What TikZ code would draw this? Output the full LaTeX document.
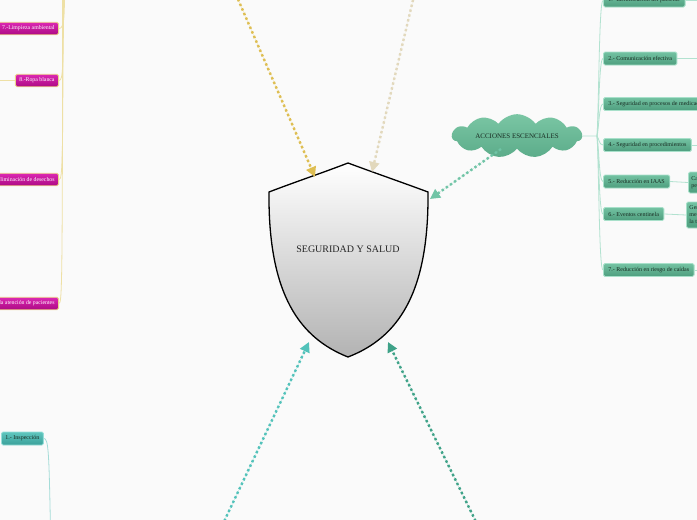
\documentclass[tikz,border=0pt]{standalone}
\usepackage{fontspec}
\setmainfont{Liberation Serif}
\usetikzlibrary{shapes.symbols,arrows.meta,calc}
\definecolor{bgc}{RGB}{250,250,250}
\definecolor{gtop}{RGB}{115,194,162}
\definecolor{gbot}{RGB}{78,158,126}
\definecolor{gbord}{RGB}{168,224,202}
\definecolor{gtext}{RGB}{25,45,35}
\definecolor{ptop}{RGB}{220,40,178}
\definecolor{pbot}{RGB}{172,10,132}
\definecolor{pbord}{RGB}{236,214,140}
\definecolor{ttop}{RGB}{95,198,190}
\definecolor{tbot}{RGB}{58,160,154}
\definecolor{tbord}{RGB}{150,222,216}
\definecolor{yline}{RGB}{238,224,165}
\definecolor{gline}{RGB}{178,226,208}
\definecolor{tline}{RGB}{165,220,216}
\definecolor{ayel}{RGB}{222,190,82}
\definecolor{abei}{RGB}{226,216,188}
\definecolor{acld}{RGB}{112,196,166}
\definecolor{atea}{RGB}{82,194,186}
\definecolor{adrk}{RGB}{62,162,136}
\definecolor{ctop}{RGB}{122,198,164}
\definecolor{cbot}{RGB}{92,172,138}
\begin{document}
\begin{tikzpicture}[x=1pt,y=-1pt,
  gbox/.style={rounded corners=1.5pt, draw=gbord, line width=0.9pt, top color=gtop, bottom color=gbot,
    text=gtext, font=\fontsize{6}{7}\selectfont, inner xsep=5pt, inner ysep=0pt, minimum height=13pt},
  pbox/.style={rounded corners=1.5pt, draw=pbord, line width=0.9pt, top color=ptop, bottom color=pbot,
    text=white, font=\fontsize{5.8}{7}\selectfont, inner xsep=4pt, inner ysep=0pt, minimum height=12.5pt},
  tbox/.style={rounded corners=1.5pt, draw=tbord, line width=0.9pt, top color=ttop, bottom color=tbot,
    text=gtext, font=\fontsize{6}{7}\selectfont, inner xsep=4pt, inner ysep=0pt, minimum height=13pt},
  ylin/.style={draw=yline, line width=0.8pt},
  glin/.style={draw=gline, line width=0.8pt},
  tlin/.style={draw=tline, line width=0.8pt},
  dotarrow/.style={line width=2.4pt, dash pattern=on 2.4pt off 2.6pt, -{Triangle[length=10pt,width=10pt]}},
  cloudsty/.style={cloud, cloud puffs=11, cloud puff arc=110, aspect=4.3, minimum width=130pt, minimum height=31pt,
    inner sep=0pt, top color=ctop, bottom color=cbot, font=\fontsize{7}{8}\selectfont, text=gtext}
]
\useasboundingbox (0,0) rectangle (697,520);
\fill[bgc] (0,0) rectangle (697,520);
\clip (0,0) rectangle (697,520);

% shield
\shade[top color=white, bottom color=black!30]
  (269,192) .. controls (295,182) and (322,173) .. (348,163) .. controls (375,173) and (401,182) .. (428,192)
  .. controls (429,295) and (397,338) .. (348,357) .. controls (300,338) and (268,295) .. (269,192) -- cycle;
\draw[line width=1.3pt, line join=miter]
  (269,192) .. controls (295,182) and (322,173) .. (348,163) .. controls (375,173) and (401,182) .. (428,192)
  .. controls (429,295) and (397,338) .. (348,357) .. controls (300,338) and (268,295) .. (269,192) -- cycle;
\node[font=\fontsize{10}{12}\selectfont, text=black!85] (shield) at (348,249) {SEGURIDAD Y SALUD};
\coordinate (sy) at (315,177);
\coordinate (sb) at (372,172);
\coordinate (sg) at (430,199);
\coordinate (st) at (309,342);
\coordinate (sd) at (388,342);

% cloud
\node[cloudsty] (cloud) at (517,136) {ACCIONES ESCENCIALES};
\coordinate (cst) at (501,149);
\coordinate (hub) at (597,136);

% arrow start points
\coordinate (yst) at (234,-10);
\coordinate (bst) at (415.4,-10);
\coordinate (tst) at (220,530);
\coordinate (dst) at (480,530);

\draw[dotarrow, draw=ayel, fill=ayel] (yst) -- (sy);
\draw[dotarrow, draw=abei, fill=abei] (bst) -- (sb);
\draw[dotarrow, draw=acld, fill=acld] (cst) -- (sg);
\draw[dotarrow, draw=atea, fill=atea] (tst) -- (st);
\draw[dotarrow, draw=adrk, fill=adrk] (dst) -- (sd);

% right branch
\node[gbox, anchor=west] (r1) at (603,0.5) {1.- Identificación del paciente};
\node[gbox, anchor=west] (r2) at (603,58.5) {2.- Comunicación efectiva};
\node[gbox, anchor=west] (r3) at (603,104) {3.- Seguridad en procesos de medicación};
\node[gbox, anchor=west] (r4) at (603,145) {4.- Seguridad en procedimientos};
\node[gbox, anchor=west] (r5) at (603,181.5) {5.- Reducción en IAAS};
\node[gbox, anchor=west] (r6) at (603,214) {6.- Eventos centinela};
\node[gbox, anchor=west] (r7) at (603,270) {7.- Reducción en riesgo de caídas};
\node[gbox, anchor=west, align=left, minimum height=21pt, inner xsep=3pt] (c5) at (688,182.5) {Capacitación\\personal};
\node[gbox, anchor=west, align=left, minimum height=26pt, inner xsep=3pt] (c6) at (686,215) {Generar\\medidas\\la toma};

\draw[glin] (cloud.east) -- (hub);
\foreach \n in {r1,r2,r3,r4,r5,r6,r7}{
  \draw[glin] (hub) .. controls ($(hub)!0.25!(hub|-\n.west)+(2,0)$) and ($(\n.west)+(-4,0)$) .. (\n.west);
}
\coordinate (e1) at (705,0.5);
\coordinate (e2) at (705,58.5);
\coordinate (e4) at (705,145);
\coordinate (e7) at (705,270);
\draw[glin] (r1.east) -- (e1);
\draw[glin] (r2.east) -- (e2);
\draw[glin] (r4.east) -- (e4);
\draw[glin] (r5.east) -- (c5.west);
\draw[glin] (r6.east) -- (c6.west);
\draw[glin] (r7.east) -- (e7);

% left pink branch
\node[pbox, anchor=east] (l7) at (59,28.5) {7.-Limpieza ambiental};
\node[pbox, anchor=east] (l8) at (59,80.5) {8.-Ropa blanca};
\node[pbox, anchor=east] (l9) at (59,179.5) {9.-Eliminación de desechos};
\node[pbox, anchor=east] (l10) at (59,303.5) {10.-Seguridad en la atención de pacientes};
\coordinate (t7) at (64.5,-10);
\coordinate (t8) at (63.5,-10);
\coordinate (t9) at (63,-10);
\coordinate (t10) at (62.5,-10);
\coordinate (yl) at (-10,80.5);
\draw[ylin] (l7.east) .. controls (64,28.5) and (64.5,18) .. (t7);
\draw[ylin] (l8.east) .. controls (63,80.5) and (63.5,68) .. (t8);
\draw[ylin] (l9.east) .. controls (62.5,179.5) and (63,165) .. (t9);
\draw[ylin] (l10.east) .. controls (62,303.5) and (62.5,285) .. (t10);
\draw[ylin] (l8.west) -- (yl);

% left teal branch
\node[tbox, anchor=west] (i1) at (1,438.5) {1.- Inspección};
\coordinate (ib) at (50.5,530);
\draw[tlin] (i1.east) .. controls (48.5,438.5) and (49,452) .. (ib);
\end{tikzpicture}
\end{document}
